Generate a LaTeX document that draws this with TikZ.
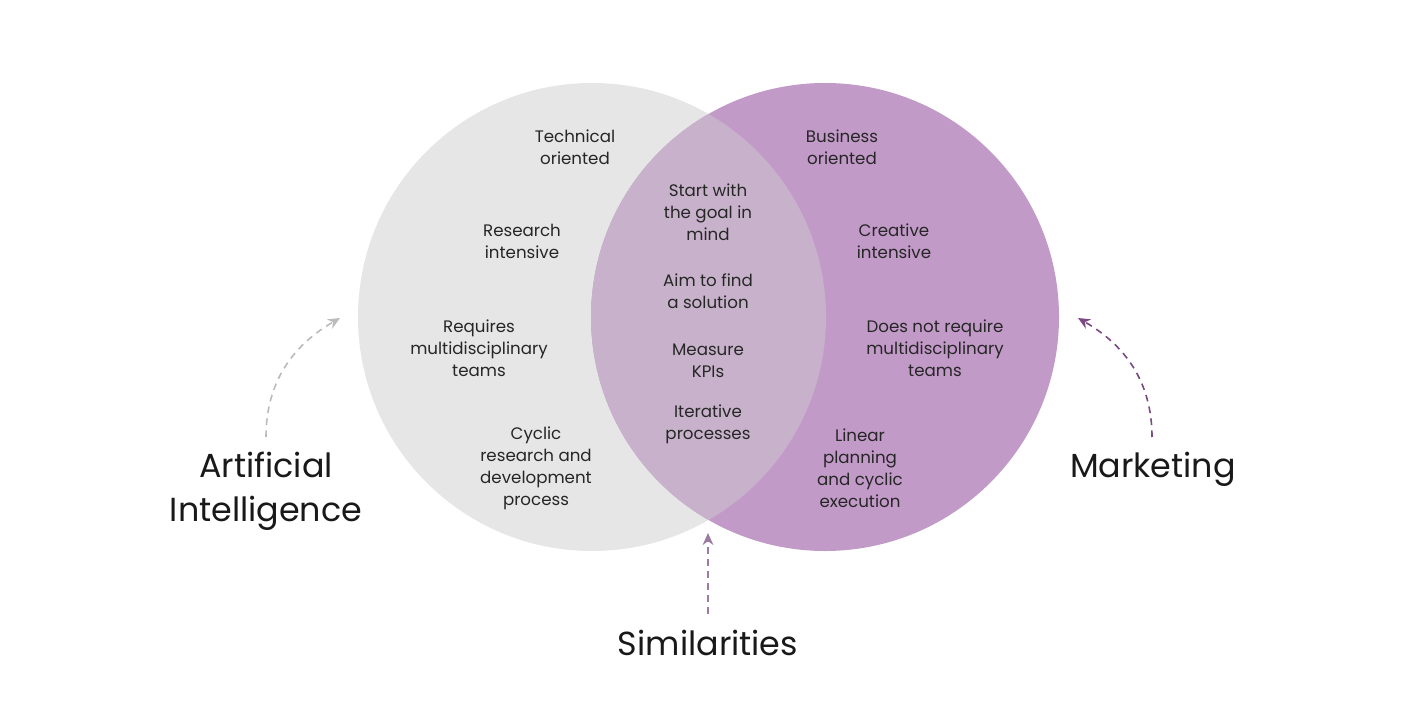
\documentclass[tikz,border=0pt]{standalone}
\usepackage{fontspec}
\setmainfont{Poppins}
\usetikzlibrary{arrows.meta}
\definecolor{gr}{HTML}{E6E6E6}
\definecolor{pu}{HTML}{C29AC8}
\definecolor{lens}{HTML}{C8B2CB}
\definecolor{dpu}{HTML}{7B4A85}
\definecolor{dgr}{HTML}{BBBBBB}
\begin{document}
\begin{tikzpicture}[x=0.75pt,y=-0.75pt,
 t/.style={align=center,font=\fontsize{12.5}{16.5}\selectfont,text=black!85},
 big/.style={align=center,font=\fontsize{25}{33}\selectfont,text=black!90},
 arr/.style={dashed,line width=1.2pt,dash pattern=on 5pt off 4pt,-{Stealth[length=9pt,width=8pt]}}]
\useasboundingbox (0,0) rectangle (1420,720);
\fill[white] (0,0) rectangle (1420,720);
\fill[gr] (592,317) circle (234);
\fill[pu] (825,317) circle (234);
\begin{scope}
\clip (592,317) circle (234);
\fill[lens] (825,317) circle (234);
\end{scope}
\node[t] (a1) at (575,147) {Technical\\oriented};
\node[t] (a2) at (522,241) {Research\\intensive};
\node[t] (a3) at (479,348) {Requires\\multidisciplinary\\teams};
\node[t] (a4) at (536,468) {Cyclic\\research and\\development\\process};
\node[t] (b1) at (842,147) {Business\\oriented};
\node[t] (b2) at (894,241) {Creative\\intensive};
\node[t] (b3) at (935,348) {Does not require\\multidisciplinary\\teams};
\node[t] (b4) at (860,468) {Linear\\planning\\and cyclic\\execution};
\node[t] (c1) at (708,212) {Start with\\the goal in\\mind};
\node[t] (c2) at (708,291) {Aim to find\\a solution};
\node[t] (c3) at (708,361) {Measure\\KPIs};
\node[t] (c4) at (708,424) {Iterative\\processes};
\node[big] (ai) at (266,491) {Artificial\\Intelligence};
\node[big] (mk) at (1153,469) {Marketing};
\node[big] (sm) at (708,643) {Similarities};
\coordinate (ae) at (340,318);
\coordinate (me) at (1078,318);
\coordinate (se) at (708,533);
\draw[arr,dgr] (266,437) to[out=90,in=210] (ae);
\draw[arr,dpu] (1152,437) to[out=90,in=-30] (me);
\draw[arr,pu!80!black] (708,614) -- (se);
\end{tikzpicture}
\end{document}
